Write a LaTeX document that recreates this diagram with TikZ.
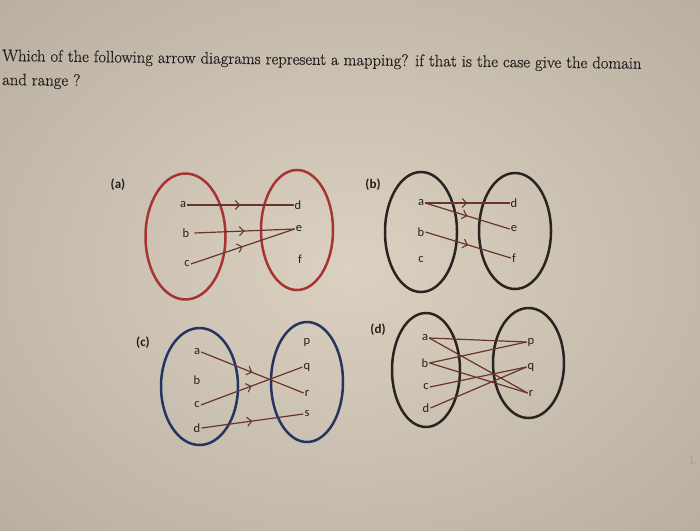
\documentclass[tikz,border=0pt]{standalone}
\usepackage{fontspec}
\newfontfamily\labfont{Carlito}
\newfontfamily\titlefont{Latin Modern Roman}[FakeBold=0.5]
\usetikzlibrary{arrows.meta,decorations.markings}
\definecolor{bgin}{RGB}{220,209,192}
\definecolor{bgout}{RGB}{184,175,162}
\definecolor{redell}{RGB}{168,52,50}
\definecolor{blkell}{RGB}{40,36,34}
\definecolor{blueell}{RGB}{38,52,98}
\definecolor{edgecol}{RGB}{105,52,42}
\definecolor{txtcol}{RGB}{35,30,30}
\tikzset{
  lab/.style={font=\labfont\fontsize{12.5}{13}\selectfont, text=txtcol, inner sep=1pt},
  tag/.style={font=\labfont\bfseries\fontsize{13}{14}\selectfont, text=txtcol, inner sep=1pt},
  ell/.style={line width=2.5pt},
  edge/.style={draw=edgecol, line width=1.2pt, postaction=decorate,
    decoration={markings, mark=at position 0.5 with {\arrow{Straight Barb[length=4.5pt,width=9pt,line width=1.1pt]}}}},
  plainedge/.style={draw=edgecol, line width=1.2pt},
  title/.style={font=\titlefont\fontsize{16.6}{19}\selectfont, text=txtcol, inner sep=0pt, anchor=base west}
}
\begin{document}
\begin{tikzpicture}[x=1pt,y=-1pt]
\useasboundingbox (0,0) rectangle (700,530);
\clip (0,0) rectangle (700,530);
\shade[inner color=bgin, outer color=bgout] (-150,-120) rectangle (850,650);

% title
\node[title, rotate=-0.7] (t1) at (2,61) {Which of the following arrow diagrams represent a mapping? if that is the case give the domain};
\node[title, rotate=-0.7] (t2) at (2,85) {and range ?};
\node[font=\fontsize{12}{12}\selectfont, text=gray!75, anchor=base west] (lmark) at (686,464) {L};

% (a)
\node[tag] (ta) at (118,185) {(a)};
\draw[ell, redell] (185.5,236.5) ellipse [x radius=40pt, y radius=63pt];
\draw[ell, redell] (297,230) ellipse [x radius=36pt, y radius=60pt];
\node[lab] (aa) at (183,205) {a};
\node[lab] (ab) at (186,233) {b};
\node[lab] (ac) at (187,264) {c};
\node[lab] (ad) at (298,205) {d};
\node[lab] (ae) at (299,229) {e};
\node[lab] (af) at (300,259) {f};
\draw[edge] (aa.east) -- (ad.west);
\draw[edge] ([xshift=4pt]ab.east) -- (ae.west);
\draw[edge] (ac.east) -- (ae.west);

% (b)
\node[tag] (tb) at (373,185) {(b)};
\draw[ell, blkell] (421,232) ellipse [x radius=36pt, y radius=60pt];
\draw[ell, blkell] (515,231) ellipse [x radius=36pt, y radius=58pt];
\node[lab] (ba) at (421,203) {a};
\node[lab] (bb) at (421,232) {b};
\node[lab] (bc) at (421,260) {c};
\node[lab] (bd) at (514,203) {d};
\node[lab] (be) at (514,229) {e};
\node[lab] (bf) at (514,258) {f};
\draw[edge] (ba.east) -- (bd.west);
\draw[edge] (ba.east) -- (be.west);
\draw[edge] (bb.east) -- (bf.west);

% (c)
\node[tag] (tc) at (143,343) {(c)};
\draw[ell, blueell] (199.5,386.5) ellipse [x radius=38.5pt, y radius=58.5pt];
\draw[ell, blueell] (307,382) ellipse [x radius=36pt, y radius=60pt];
\node[lab] (ca) at (197,352) {a};
\node[lab] (cb) at (197,380) {b};
\node[lab] (cc) at (197,405) {c};
\node[lab] (cd) at (197,428) {d};
\node[lab] (cp) at (307,342) {p};
\node[lab] (cq) at (307,367) {q};
\node[lab] (cr) at (307,393) {r};
\node[lab] (cs) at (307,414) {s};
\draw[edge] (ca.east) -- (cr.west);
\draw[edge] (cc.east) -- (cq.west);
\draw[edge] (cd.east) -- (cs.west);

% (d)
\node[tag] (td) at (378,330) {(d)};
\draw[ell, blkell] (426,370) ellipse [x radius=34pt, y radius=57pt];
\draw[ell, blkell] (528.5,363) ellipse [x radius=35.5pt, y radius=55pt];
\node[lab] (da) at (425,338) {a};
\node[lab] (db) at (425,363) {b};
\node[lab] (dc) at (426,387) {c};
\node[lab] (dd) at (426,408) {d};
\node[lab] (dp) at (531,342) {p};
\node[lab] (dq) at (531,367) {q};
\node[lab] (dr) at (531,393) {r};
\draw[plainedge] (da.east) -- (dp.west);
\draw[plainedge] (da.east) -- (dr.west);
\draw[plainedge] (db.east) -- (dp.west);
\draw[plainedge] (db.east) -- (dr.west);
\draw[plainedge] (dc.east) -- (dq.west);
\draw[plainedge] (dd.east) -- (dq.west);
\end{tikzpicture}
\end{document}
